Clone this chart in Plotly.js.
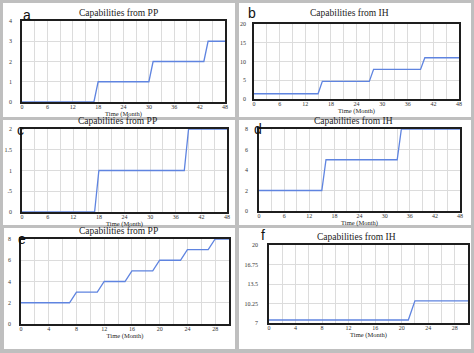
<!DOCTYPE html>
<html><head><meta charset="utf-8">
<script src="https://cdn.plot.ly/plotly-3.0.1.min.js"></script>
<style>html,body{margin:0;padding:0;background:#fff}#chart{width:474px;height:353px}</style>
</head><body><div id="chart"></div>
<script>
// ---- data ----
const monthsA = [0, 17, 18, 30, 31, 43, 44, 48];
const capA    = [0, 0, 1, 1, 2, 2, 3, 3];
const monthsB = [0, 15, 16, 27, 28, 39, 40, 48];
const capB    = [1.4, 1.4, 4.7, 4.7, 7.9, 7.9, 11, 11];
const monthsC = [0, 17, 18, 38, 39, 48];
const capC    = [0, 0, 1, 1, 2, 2];
const monthsD = [0, 15, 16, 33, 34, 48];
const capD    = [2, 2, 5, 5, 8, 8];
const monthsE = [0, 7, 8, 11, 12, 15, 16, 19, 20, 23, 24, 27, 28, 30];
const capE    = [2, 2, 3, 3, 4, 4, 5, 5, 6, 6, 7, 7, 8, 8];
const monthsF = [0, 21, 22, 30];
const capF    = [7.5, 7.5, 10.7, 10.7];

const panelLetters = ["a", "b", "c", "d", "e", "f"];
const panelTitles  = ["Capabilities from PP", "Capabilities from IH", "Capabilities from PP",
                      "Capabilities from IH", "Capabilities from PP", "Capabilities from IH"];
const xTitle = "Time (Month)";
const xTicks48 = [0, 6, 12, 18, 24, 30, 36, 42, 48];
const xTicks30 = [0, 4, 8, 12, 16, 20, 24, 28];
const yTicksA = [0, 1, 2, 3, 4];
const yTicksB = [0, 5, 10, 15, 20];
const yTicksC = [0, 0.5, 1, 1.5, 2];
const yTickTextC = ["0", ".5", "1", "1.5", "2"];
const yTicksD = [0, 2, 4, 6, 8];
const yTicksE = [0, 2, 4, 6, 8];
const yTicksF = [7, 10.25, 13.5, 16.75, 20];

// ---- layout geometry (pixels) ----
const W = 474, H = 353;
const boxes = [ // plot frame: left, right, top, bottom
  [22, 225, 21, 102], [254, 459, 24, 99],
  [22, 227, 129, 212], [259, 460, 129, 211],
  [21, 229, 239, 324], [269, 468, 245, 323]
];
const ylabStandoff = [7, 5, 7, 8, 7, 8];
const titlePos  = [[118, 13], [349, 13], [117, 121], [353, 121], [118, 231], [356, 237]];
const letterPos = [[21, 15], [246, 13], [14.5, 130], [251.5, 129], [16, 239], [259, 235]];

const series = [
  {x: monthsA, y: capA, xr: [0, 48], yr: [0, 4], xt: xTicks48, minor: 3, yt: yTicksA},
  {x: monthsB, y: capB, xr: [0, 48], yr: [0, 20], xt: xTicks48, minor: 3, yt: yTicksB},
  {x: monthsC, y: capC, xr: [0, 48], yr: [0, 2], xt: xTicks48, minor: 3, yt: yTicksC, ytt: yTickTextC},
  {x: monthsD, y: capD, xr: [0, 48], yr: [0, 8], xt: xTicks48, minor: 3, yt: yTicksD},
  {x: monthsE, y: capE, xr: [0, 30], yr: [0, 8], xt: xTicks30, minor: 2, yt: yTicksE},
  {x: monthsF, y: capF, xr: [0, 30], yr: [7, 20], xt: xTicks30, minor: 2, yt: yTicksF}
];

const serif = "Liberation Serif";
const lineBlue = "#5f84e0";
const gridC = "#dcdcdc";
const frameC = "#1e1e1e";

const traces = [];
const layout = {
  width: W, height: H,
  margin: {l: 0, r: 0, t: 0, b: 0},
  paper_bgcolor: "#bfbfbf",
  plot_bgcolor: "#ffffff",
  showlegend: false,
  annotations: [],
  shapes: []
};

// white panel backgrounds
const panels = [[3, 235, 3, 117], [239, 471, 3, 117], [3, 235, 120, 225], [239, 471, 120, 225], [4, 235, 228, 349], [239, 471, 228, 349]];
panels.forEach(p => {
  layout.shapes.push({type: "rect", xref: "paper", yref: "paper", layer: "below",
    x0: p[0] / W, x1: p[1] / W, y0: 1 - p[3] / H, y1: 1 - p[2] / H,
    fillcolor: "#ffffff", line: {width: 0}});
});

series.forEach((s, i) => {
  const n = i === 0 ? "" : String(i + 1);
  const b = boxes[i];
  traces.push({type: "scatter", mode: "lines", x: s.x, y: s.y,
    xaxis: "x" + n, yaxis: "y" + n,
    line: {color: lineBlue, width: 1.3}, hoverinfo: "skip"});
  layout["xaxis" + n] = {
    domain: [b[0] / W, b[1] / W], range: s.xr, anchor: "y" + n,
    tickmode: "array", tickvals: s.xt,
    showgrid: true, gridcolor: gridC, gridwidth: 1,
    minor: {dtick: s.minor, showgrid: true, gridcolor: gridC, gridwidth: 1},
    showline: true, mirror: true, linecolor: frameC, linewidth: 1.8,
    zeroline: false, ticks: "", fixedrange: true,
    tickfont: {family: serif, size: 6, color: "#333"},
    ticklabelstandoff: -2,
    title: {text: xTitle, font: {family: serif, size: 6.5, color: "#222"}, standoff: 0}
  };
  layout["yaxis" + n] = {
    domain: [1 - b[3] / H, 1 - b[2] / H], range: s.yr, anchor: "x" + n,
    tickmode: "array", tickvals: s.yt, ticktext: s.ytt || s.yt.map(String),
    showgrid: true, gridcolor: gridC, gridwidth: 1,
    showline: true, mirror: true, linecolor: frameC, linewidth: 1.8,
    zeroline: false, ticks: "", fixedrange: true,
    tickfont: {family: serif, size: 6, color: "#333"},
    ticklabelstandoff: ylabStandoff[i]
  };
  layout.annotations.push({xref: "paper", yref: "paper", showarrow: false,
    x: titlePos[i][0] / W, y: 1 - titlePos[i][1] / H, xanchor: "center", yanchor: "middle",
    text: panelTitles[i], font: {family: serif, size: 9.5, color: "#222"}});
  layout.annotations.push({xref: "paper", yref: "paper", showarrow: false,
    x: letterPos[i][0] / W, y: 1 - letterPos[i][1] / H, xanchor: "left", yanchor: "middle",
    text: panelLetters[i], font: {family: "Liberation Sans", size: 14, color: "#111"}});
});

Plotly.newPlot("chart", traces, layout, {staticPlot: true, displayModeBar: false});
</script>
</body></html>
